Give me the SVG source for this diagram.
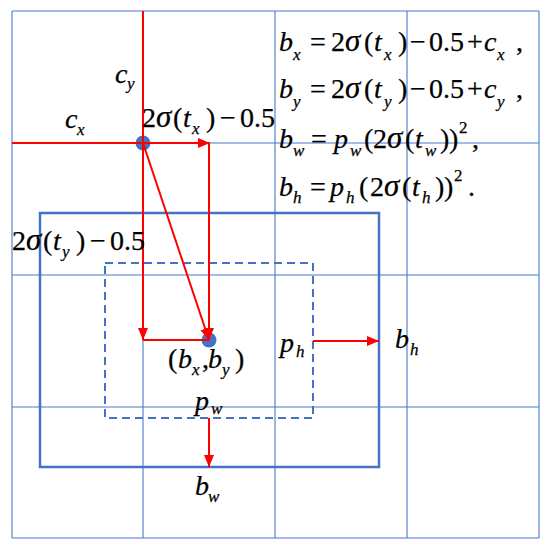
<svg xmlns="http://www.w3.org/2000/svg" width="550" height="550" viewBox="0 0 550 550" font-family="'Liberation Serif', 'DejaVu Serif', serif">
<style>
.grid{stroke:#4d78cc;stroke-width:1.1;fill:none}
.box{stroke:#4472C4;stroke-width:2.5;fill:none}
.dash{stroke:#4472C4;stroke-width:2;fill:none;stroke-dasharray:8 5}
.red{stroke:#ff0000;stroke-width:2;fill:none}
.dot{fill:#4472C4}
text{font-family:'Liberation Serif','DejaVu Serif',serif;font-size:28px;fill:#000;stroke:#000;stroke-width:0.25}
.i{font-style:italic}
.g{font-style:italic;font-size:31px}
.s{font-size:17px;font-style:italic}
.sup{font-size:17px}
</style>
<defs>
<marker id="ah" markerUnits="userSpaceOnUse" markerWidth="13" markerHeight="11" refX="12" refY="5" orient="auto">
<path d="M0,0 L12,5 L0,10 z" fill="#ff0000"/>
</marker>
</defs>
<rect width="550" height="550" fill="#fff"/>
<g id="grid">
<path class="grid" d="M12,11 H539 M12,143 H539 M12,275 H539 M12,407 H539 M12,538 H539 M12,11 V538 M143,11 V538 M275,11 V538 M407,11 V538 M539,11 V538"/>
</g>
<g id="predicted-box"><rect class="box" x="40" y="213" width="339" height="254"/></g>
<g id="anchor-box"><rect class="dash" x="105" y="263" width="208" height="155"/></g>
<g id="grid-point"><circle class="dot" cx="143" cy="143" r="7.5"/></g>
<g id="center-point"><circle class="dot" cx="209" cy="340" r="7.5"/></g>
<g id="connectors">
<line class="red" x1="143" y1="11" x2="143" y2="340" marker-end="url(#ah)"/>
<line class="red" x1="12" y1="143" x2="210" y2="143" marker-end="url(#ah)"/>
<line class="red" x1="209" y1="143" x2="209" y2="340" marker-end="url(#ah)"/>
<line class="red" x1="143" y1="143" x2="209" y2="340" marker-end="url(#ah)"/>
<line class="red" x1="143" y1="340" x2="209" y2="340"/>
<line class="red" x1="313" y1="341" x2="379" y2="341" marker-end="url(#ah)"/>
<line class="red" x1="209" y1="418" x2="209" y2="467" marker-end="url(#ah)"/>
</g>
<g id="labels">
<text><tspan class="i" x="115" y="83">c</tspan><tspan class="s" x="127" y="89">y</tspan></text>
<text><tspan class="i" x="65" y="128">c</tspan><tspan class="s" x="77" y="135">x</tspan></text>
<text><tspan x="142" y="127">2</tspan><tspan class="g">σ</tspan><tspan x="173" y="127">(</tspan><tspan class="i" x="183" y="127">t</tspan><tspan class="s" x="192" y="134">x</tspan><tspan x="206" y="127">)</tspan><tspan x="220" y="127">−</tspan><tspan x="240" y="127">0.5</tspan></text>
<text><tspan x="12" y="250">2</tspan><tspan class="g">σ</tspan><tspan x="43" y="250">(</tspan><tspan class="i" x="53" y="250">t</tspan><tspan class="s" x="62" y="257">y</tspan><tspan x="76" y="250">)</tspan><tspan x="90" y="250">−</tspan><tspan x="110" y="250">0.5</tspan></text>
<text><tspan class="i" x="280" y="352">p</tspan><tspan class="s" x="296" y="357">h</tspan></text>
<text><tspan class="i" x="395" y="348">b</tspan><tspan class="s" x="410" y="355">h</tspan></text>
<text><tspan x="168" y="368">(</tspan><tspan class="i" x="178" y="368">b</tspan><tspan class="s" x="192" y="375">x</tspan><tspan x="202" y="368">,</tspan><tspan class="i" x="208" y="368">b</tspan><tspan class="s" x="222" y="375">y</tspan><tspan x="235" y="368">)</tspan></text>
<text><tspan class="i" x="195" y="410">p</tspan><tspan class="s" x="211" y="414">w</tspan></text>
<text><tspan class="i" x="195" y="495">b</tspan><tspan class="s" x="208" y="502">w</tspan></text>
</g>
<g id="equations">
<text><tspan class="i" x="279" y="51">b</tspan><tspan class="s" x="293" y="60">x</tspan><tspan x="310" y="51">=</tspan><tspan x="331" y="51">2</tspan><tspan class="g">σ</tspan><tspan x="364" y="51">(</tspan><tspan class="i" x="374" y="51">t</tspan><tspan class="s" x="384" y="60">x</tspan><tspan x="398" y="51">)</tspan><tspan x="410" y="51">−</tspan><tspan x="429" y="51">0.5</tspan><tspan x="467" y="51">+</tspan><tspan class="i" x="484" y="51">c</tspan><tspan class="s" x="497" y="60">x</tspan><tspan x="516" y="51">,</tspan></text>
<text><tspan class="i" x="279" y="98">b</tspan><tspan class="s" x="293" y="107">y</tspan><tspan x="310" y="98">=</tspan><tspan x="331" y="98">2</tspan><tspan class="g">σ</tspan><tspan x="364" y="98">(</tspan><tspan class="i" x="374" y="98">t</tspan><tspan class="s" x="384" y="107">y</tspan><tspan x="398" y="98">)</tspan><tspan x="410" y="98">−</tspan><tspan x="429" y="98">0.5</tspan><tspan x="467" y="98">+</tspan><tspan class="i" x="484" y="98">c</tspan><tspan class="s" x="497" y="107">y</tspan><tspan x="516" y="98">,</tspan></text>
<text><tspan class="i" x="279" y="148">b</tspan><tspan class="s" x="293" y="156">w</tspan><tspan x="311" y="148">=</tspan><tspan class="i" x="334" y="148">p</tspan><tspan class="s" x="350" y="156">w</tspan><tspan x="364" y="148">(</tspan><tspan x="373" y="148">2</tspan><tspan class="g">σ</tspan><tspan x="405" y="148">(</tspan><tspan class="i" x="415" y="148">t</tspan><tspan class="s" x="425" y="156">w</tspan><tspan x="440" y="148">)</tspan><tspan x="449" y="148">)</tspan><tspan class="sup" x="459" y="133">2</tspan><tspan x="472" y="148">,</tspan></text>
<text><tspan class="i" x="279" y="196">b</tspan><tspan class="s" x="293" y="203">h</tspan><tspan x="310" y="196">=</tspan><tspan class="i" x="330" y="196">p</tspan><tspan class="s" x="346" y="203">h</tspan><tspan x="359" y="196">(</tspan><tspan x="370" y="196">2</tspan><tspan class="g">σ</tspan><tspan x="402" y="196">(</tspan><tspan class="i" x="412" y="196">t</tspan><tspan class="s" x="422" y="203">h</tspan><tspan x="435" y="196">)</tspan><tspan x="444" y="196">)</tspan><tspan class="sup" x="454" y="181">2</tspan><tspan x="468" y="196">.</tspan></text>
</g>
</svg>
